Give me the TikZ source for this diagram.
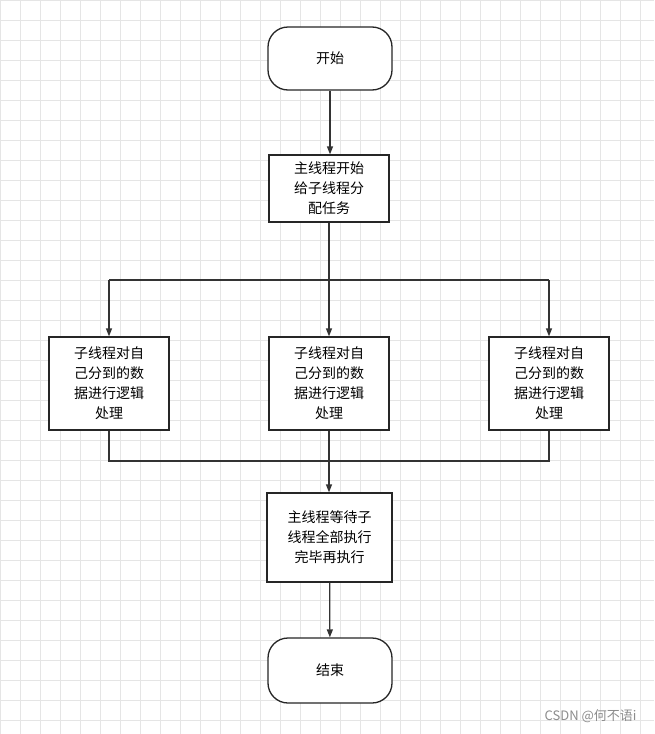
\documentclass[tikz,border=0pt]{standalone}
\usepackage{fontspec}
\setmainfont{Noto Sans CJK SC}
\usetikzlibrary{arrows.meta}
\begin{document}
\begin{tikzpicture}[x=1pt,y=-1pt,
  box/.style={draw=black!85,line width=1.3pt,fill=white,align=center,font=\fontsize{14}{20}\selectfont,inner sep=0pt},
  term/.style={box,rounded corners=20pt},
  arr/.style={draw=black!80,line width=1.3pt,-{Triangle[length=8pt,width=6pt]}},
  ln/.style={draw=black!80,line width=1.3pt}]
\useasboundingbox (0,0) rectangle (654,734);
\fill[white] (0,0) rectangle (654,734);
\foreach \i in {0,20,...,660} \draw[black!10,line width=0.6pt] (\i,0) -- (\i,734);
\foreach \i in {0,20,...,740} \draw[black!10,line width=0.6pt] (0,\i) -- (654,\i);
\node[term,minimum width=124pt,minimum height=63pt] (s) at (330,58.5) {开始};
\node[box,minimum width=120pt,minimum height=67pt] (a) at (329,188.5) {主线程开始\\给子线程分\\配任务};
\node[box,minimum width=120pt,minimum height=93pt] (l) at (109,383.5) {子线程对自\\己分到的数\\据进行逻辑\\处理};
\node[box,minimum width=120pt,minimum height=93pt] (m) at (329,383.5) {子线程对自\\己分到的数\\据进行逻辑\\处理};
\node[box,minimum width=120pt,minimum height=93pt] (r) at (549,383.5) {子线程对自\\己分到的数\\据进行逻辑\\处理};
\node[box,minimum width=125pt,minimum height=89pt] (w) at (329.5,537.5) {主线程等待子\\线程全部执行\\完毕再执行};
\node[term,minimum width=124pt,minimum height=65pt] (e) at (330,670.5) {结束};
\coordinate (t) at (329,280);
\coordinate (b) at (329,461);
\draw[arr] (s) -- (s|-a.north);
\draw[arr] (a) -- (m);
\draw[ln] (l|-t) -- (r|-t);
\draw[arr] (l|-t) -- (l);
\draw[arr] (r|-t) -- (r);
\draw[ln] (l.south) -- (l|-b) -- (r|-b) -- (r.south);
\draw[arr] (m.south) -- (w.north -| m);
\draw[arr] (w) -- (e);
\node[text=black!45,font=\fontsize{13}{15}\selectfont,anchor=east] (wm) at (640,716) {CSDN @何不语i};
\end{tikzpicture}
\end{document}
